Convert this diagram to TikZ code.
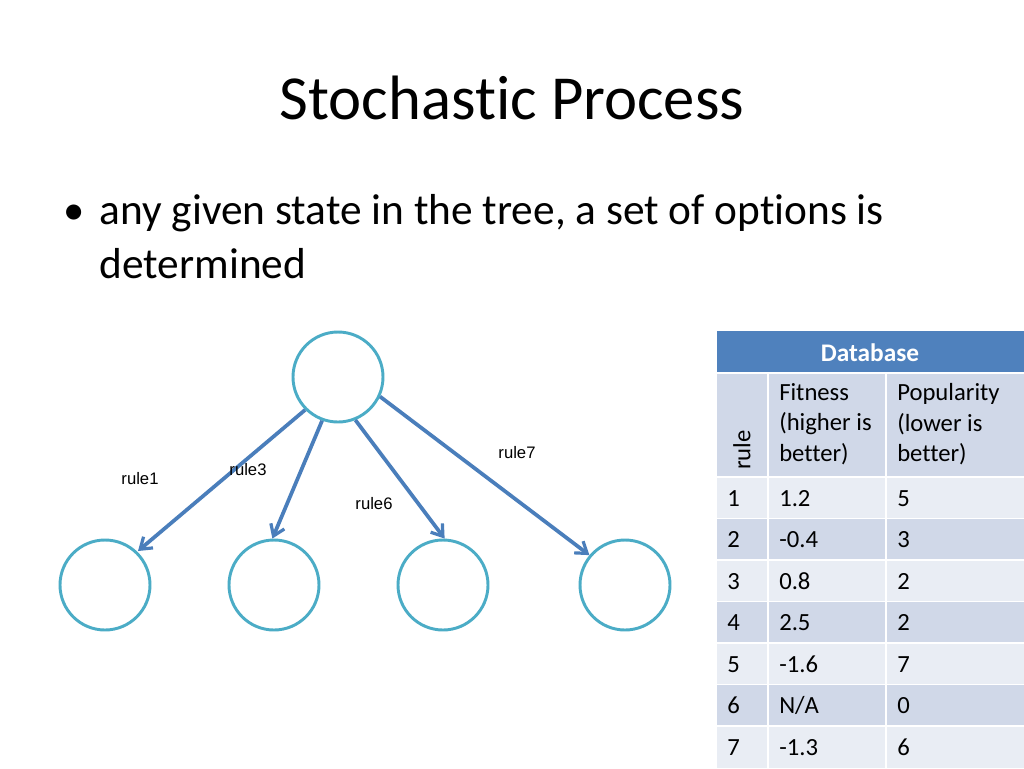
\documentclass[tikz,border=0pt]{standalone}
\usepackage{fontspec}
\setmainfont{Carlito}[Ligatures=NoCommon]
\newfontfamily\arialfont{Liberation Sans}
\usetikzlibrary{positioning,arrows.meta}
\definecolor{ringcol}{HTML}{4BACC6}
\definecolor{edgecol}{HTML}{4A7EBB}
\definecolor{headcol}{HTML}{4F81BD}
\definecolor{darkrow}{HTML}{D0D8E8}
\definecolor{lightrow}{HTML}{E9EDF4}
\begin{document}
\begin{tikzpicture}[x=0.75pt,y=-0.75pt,
    state/.style={circle, draw=ringcol, line width=2.2pt, minimum size=67.5pt, inner sep=0pt},
    arrow/.style={-{Straight Barb[length=8pt,width=11pt,line width=2.4pt]}, draw=edgecol, line width=2.8pt},
    rulelabel/.style={font=\arialfont\fontsize{12.5}{14}\selectfont},
    cell/.style={anchor=base west, font=\fontsize{18.5}{22}\selectfont, inner sep=0pt}
]
\useasboundingbox[fill=white] (0,0) rectangle (1024,768);
% Title and bullet
\node[font=\fontsize{47}{54}\selectfont] (title) at (512,98) {Stochastic Process};
\node[font=\fontsize{32}{38}\selectfont] (dot) at (74,215) {•};
\node[anchor=north west, align=left, font=\fontsize{32.5}{40}\selectfont] (bullet) at (95,190)
  {any given state in the tree, a set of options is\\determined};

% Tree
\node[state] (root) at (338,377) {};
\node[state] (s1) at (105,585) {};
\node[state] (s3) at (274,585) {};
\node[state] (s6) at (443,585) {};
\node[state] (s7) at (625,585) {};
\draw[arrow] (root.225) -- (138,551);
\draw[arrow] (root.250) -- (s3.92);
\draw[arrow] (root.292) -- (s6.88);
\draw[arrow] (root.-25) -- (s7.140);
\node[rulelabel] (l1) at (140,479) {rule1};
\node[rulelabel] (l3) at (248,470) {rule3};
\node[rulelabel] (l6) at (374,504) {rule6};
\node[rulelabel] (l7) at (517,453) {rule7};

% Table
\fill[headcol] (717,331) rectangle (1024,373);
\node[text=white, font=\bfseries\fontsize{19}{22}\selectfont] (dbhead) at (870,353) {Database};
\fill[darkrow] (717,373) rectangle (1024,477);
\foreach \r/\a/\b [count=\i] in {1/1.2/5, 2/-0.4/3, 3/0.8/2, 4/2.5/2, 5/-1.6/7, 6/N\slash A/0, 7/-1.3/6}{
  \pgfmathsetmacro\top{477+41.5*(\i-1)}
  \pgfmathtruncatemacro\odd{mod(\i,2)}
  \ifnum\odd=1 \def\rowcol{lightrow}\else\def\rowcol{darkrow}\fi
  \fill[\rowcol] (717,\top) rectangle (1024,\top+41.5);
  \node[cell] (r\i) at (727,\top+29) {\r};
  \node[cell] (f\i) at (779,\top+29) {\a};
  \node[cell] (p\i) at (897,\top+29) {\b};
}
\draw[white, line width=1.2pt] (717,373) -- (1024,373);
\foreach \i in {0,...,6}{ \draw[white, line width=1.2pt] (717,477+41.5*\i) -- (1024,477+41.5*\i); }
\draw[white, line width=1.2pt] (768,373) -- (768,768) (886,373) -- (886,768);
\node[rotate=90, font=\fontsize{18.5}{22}\selectfont] (rulehead) at (742,450) {rule};
\node[cell, anchor=north west, align=left, font=\fontsize{18.5}{23}\selectfont] (fithead) at (779,383) {Fitness\\(higher is\\better)};
\node[cell, anchor=north west, align=left, font=\fontsize{18.5}{23}\selectfont] (pophead) at (897,383) {Popularity\\(lower is\\better)};
\end{tikzpicture}
\end{document}
